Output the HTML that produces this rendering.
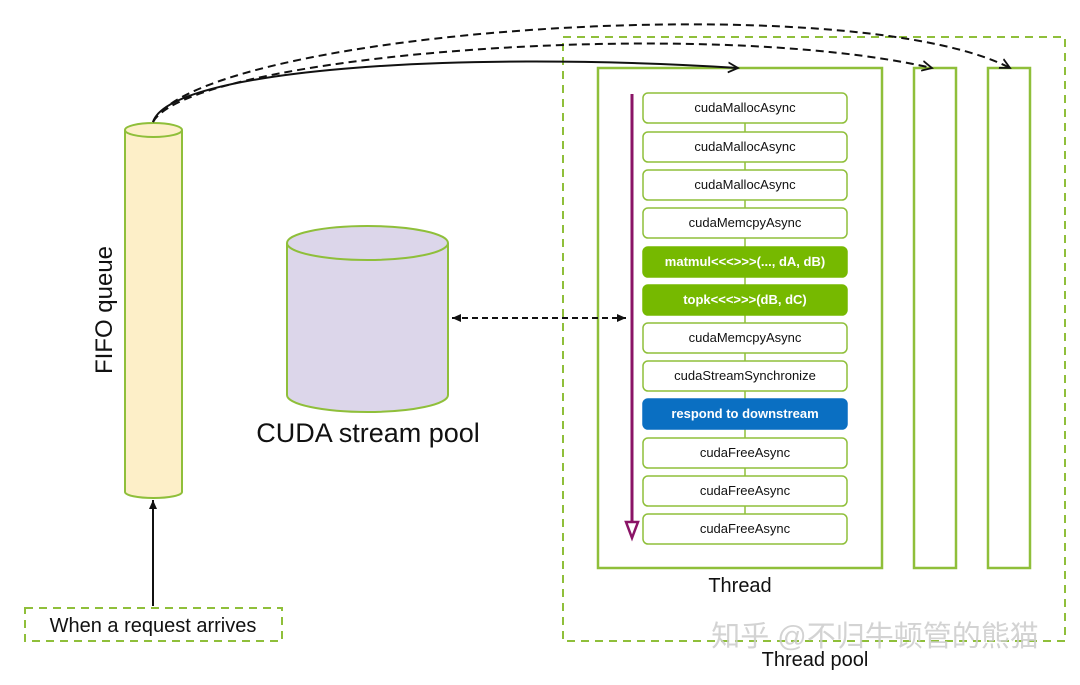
<!DOCTYPE html>
<html><head><meta charset="utf-8"><style>
body{margin:0;background:#fff}
svg{display:block;font-family:"Liberation Sans","DejaVu Sans",sans-serif}
</style></head><body>
<svg width="1080" height="685" viewBox="0 0 1080 685" xmlns="http://www.w3.org/2000/svg">
<defs>
<marker id="ah" markerWidth="12" markerHeight="12" refX="10" refY="6" orient="auto" markerUnits="userSpaceOnUse"><path d="M0,1 L10,6 L0,11" fill="none" stroke="#111" stroke-width="1.8"/></marker>
<marker id="ahs" markerWidth="10" markerHeight="10" refX="9" refY="5" orient="auto-start-reverse" markerUnits="userSpaceOnUse"><path d="M0,1 L9,5 L0,9 z" fill="#111"/></marker>
</defs>
<rect x="563" y="37" width="502" height="604" fill="none" stroke="#8fbf3a" stroke-width="2" stroke-dasharray="8,6"/>
<rect x="598" y="68" width="284" height="500" fill="#fff" stroke="#8fbf3a" stroke-width="2.5"/>
<rect x="914" y="68" width="42" height="500" fill="#fff" stroke="#8fbf3a" stroke-width="2.5"/>
<rect x="988" y="68" width="42" height="500" fill="#fff" stroke="#8fbf3a" stroke-width="2.5"/>
<text x="740" y="592" font-size="20" text-anchor="middle" fill="#111">Thread</text>
<text x="815" y="666" font-size="20" text-anchor="middle" fill="#111">Thread pool</text>
<line x1="745" y1="108" x2="745" y2="529" stroke="#8fbf3a" stroke-width="1.5"/>
<g font-size="13" text-anchor="middle">
<rect x="643" y="93" width="204" height="30" rx="5" fill="#fff" stroke="#8fbf3a" stroke-width="1.5"/><text x="745" y="112" fill="#111">cudaMallocAsync</text>
<rect x="643" y="132" width="204" height="30" rx="5" fill="#fff" stroke="#8fbf3a" stroke-width="1.5"/><text x="745" y="151" fill="#111">cudaMallocAsync</text>
<rect x="643" y="170" width="204" height="30" rx="5" fill="#fff" stroke="#8fbf3a" stroke-width="1.5"/><text x="745" y="189" fill="#111">cudaMallocAsync</text>
<rect x="643" y="208" width="204" height="30" rx="5" fill="#fff" stroke="#8fbf3a" stroke-width="1.5"/><text x="745" y="227" fill="#111">cudaMemcpyAsync</text>
<rect x="643" y="247" width="204" height="30" rx="5" fill="#76b900" stroke="#76b900" stroke-width="1.5"/><text x="745" y="266" fill="#fff" font-weight="bold">matmul&lt;&lt;&lt;&gt;&gt;&gt;(..., dA, dB)</text>
<rect x="643" y="285" width="204" height="30" rx="5" fill="#76b900" stroke="#76b900" stroke-width="1.5"/><text x="745" y="304" fill="#fff" font-weight="bold">topk&lt;&lt;&lt;&gt;&gt;&gt;(dB, dC)</text>
<rect x="643" y="323" width="204" height="30" rx="5" fill="#fff" stroke="#8fbf3a" stroke-width="1.5"/><text x="745" y="342" fill="#111">cudaMemcpyAsync</text>
<rect x="643" y="361" width="204" height="30" rx="5" fill="#fff" stroke="#8fbf3a" stroke-width="1.5"/><text x="745" y="380" fill="#111">cudaStreamSynchronize</text>
<rect x="643" y="399" width="204" height="30" rx="5" fill="#0a6fc2" stroke="#0a6fc2" stroke-width="1.5"/><text x="745" y="418" fill="#fff" font-weight="bold">respond to downstream</text>
<rect x="643" y="438" width="204" height="30" rx="5" fill="#fff" stroke="#8fbf3a" stroke-width="1.5"/><text x="745" y="457" fill="#111">cudaFreeAsync</text>
<rect x="643" y="476" width="204" height="30" rx="5" fill="#fff" stroke="#8fbf3a" stroke-width="1.5"/><text x="745" y="495" fill="#111">cudaFreeAsync</text>
<rect x="643" y="514" width="204" height="30" rx="5" fill="#fff" stroke="#8fbf3a" stroke-width="1.5"/><text x="745" y="533" fill="#111">cudaFreeAsync</text>
</g>
<line x1="632" y1="94" x2="632" y2="523" stroke="#8a1466" stroke-width="3"/>
<path d="M626,522 L638,522 L632,538 z" fill="#fff" stroke="#8a1466" stroke-width="2.5"/>
<path d="M125,130 L125,492 A28.5,6 0 0 0 182,492 L182,130" fill="#fdefc8" stroke="#8fbf3a" stroke-width="2"/>
<ellipse cx="153.5" cy="130" rx="28.5" ry="7" fill="#fdefc8" stroke="#8fbf3a" stroke-width="2"/>
<text transform="translate(112,310) rotate(-90)" font-size="24" text-anchor="middle" fill="#111">FIFO queue</text>
<path d="M287,243 L287,395 A80.5,17 0 0 0 448,395 L448,243" fill="#dcd6ea" stroke="#8fbf3a" stroke-width="2"/>
<ellipse cx="367.5" cy="243" rx="80.5" ry="17" fill="#dcd6ea" stroke="#8fbf3a" stroke-width="2"/>
<text x="368" y="442" font-size="27" text-anchor="middle" fill="#111">CUDA stream pool</text>
<line x1="452" y1="318" x2="626" y2="318" stroke="#111" stroke-width="2" stroke-dasharray="6,4" marker-start="url(#ahs)" marker-end="url(#ahs)"/>
<rect x="25" y="608" width="257" height="33" fill="#fff" stroke="#8fbf3a" stroke-width="2" stroke-dasharray="8,6"/>
<text x="153" y="632" font-size="20" text-anchor="middle" fill="#111">When a request arrives</text>
<line x1="153" y1="606" x2="153" y2="500" stroke="#111" stroke-width="2" marker-end="url(#ahs)"/>
<path d="M153,122 C170,70 450,50 738,68" fill="none" stroke="#111" stroke-width="2" marker-end="url(#ah)"/>
<path d="M153,122 C190,55 700,15 932,68" fill="none" stroke="#111" stroke-width="2" stroke-dasharray="8,5" marker-end="url(#ah)"/>
<path d="M153,122 C200,30 850,-15 1010,68" fill="none" stroke="#111" stroke-width="2" stroke-dasharray="8,5" marker-end="url(#ah)"/>
<text x="875" y="646" font-size="29" text-anchor="middle" fill="#ccc" opacity="0.85" font-family="'Liberation Sans','Noto Sans CJK SC',sans-serif">知乎 @不归牛顿管的熊猫</text>
</svg>
</body></html>
